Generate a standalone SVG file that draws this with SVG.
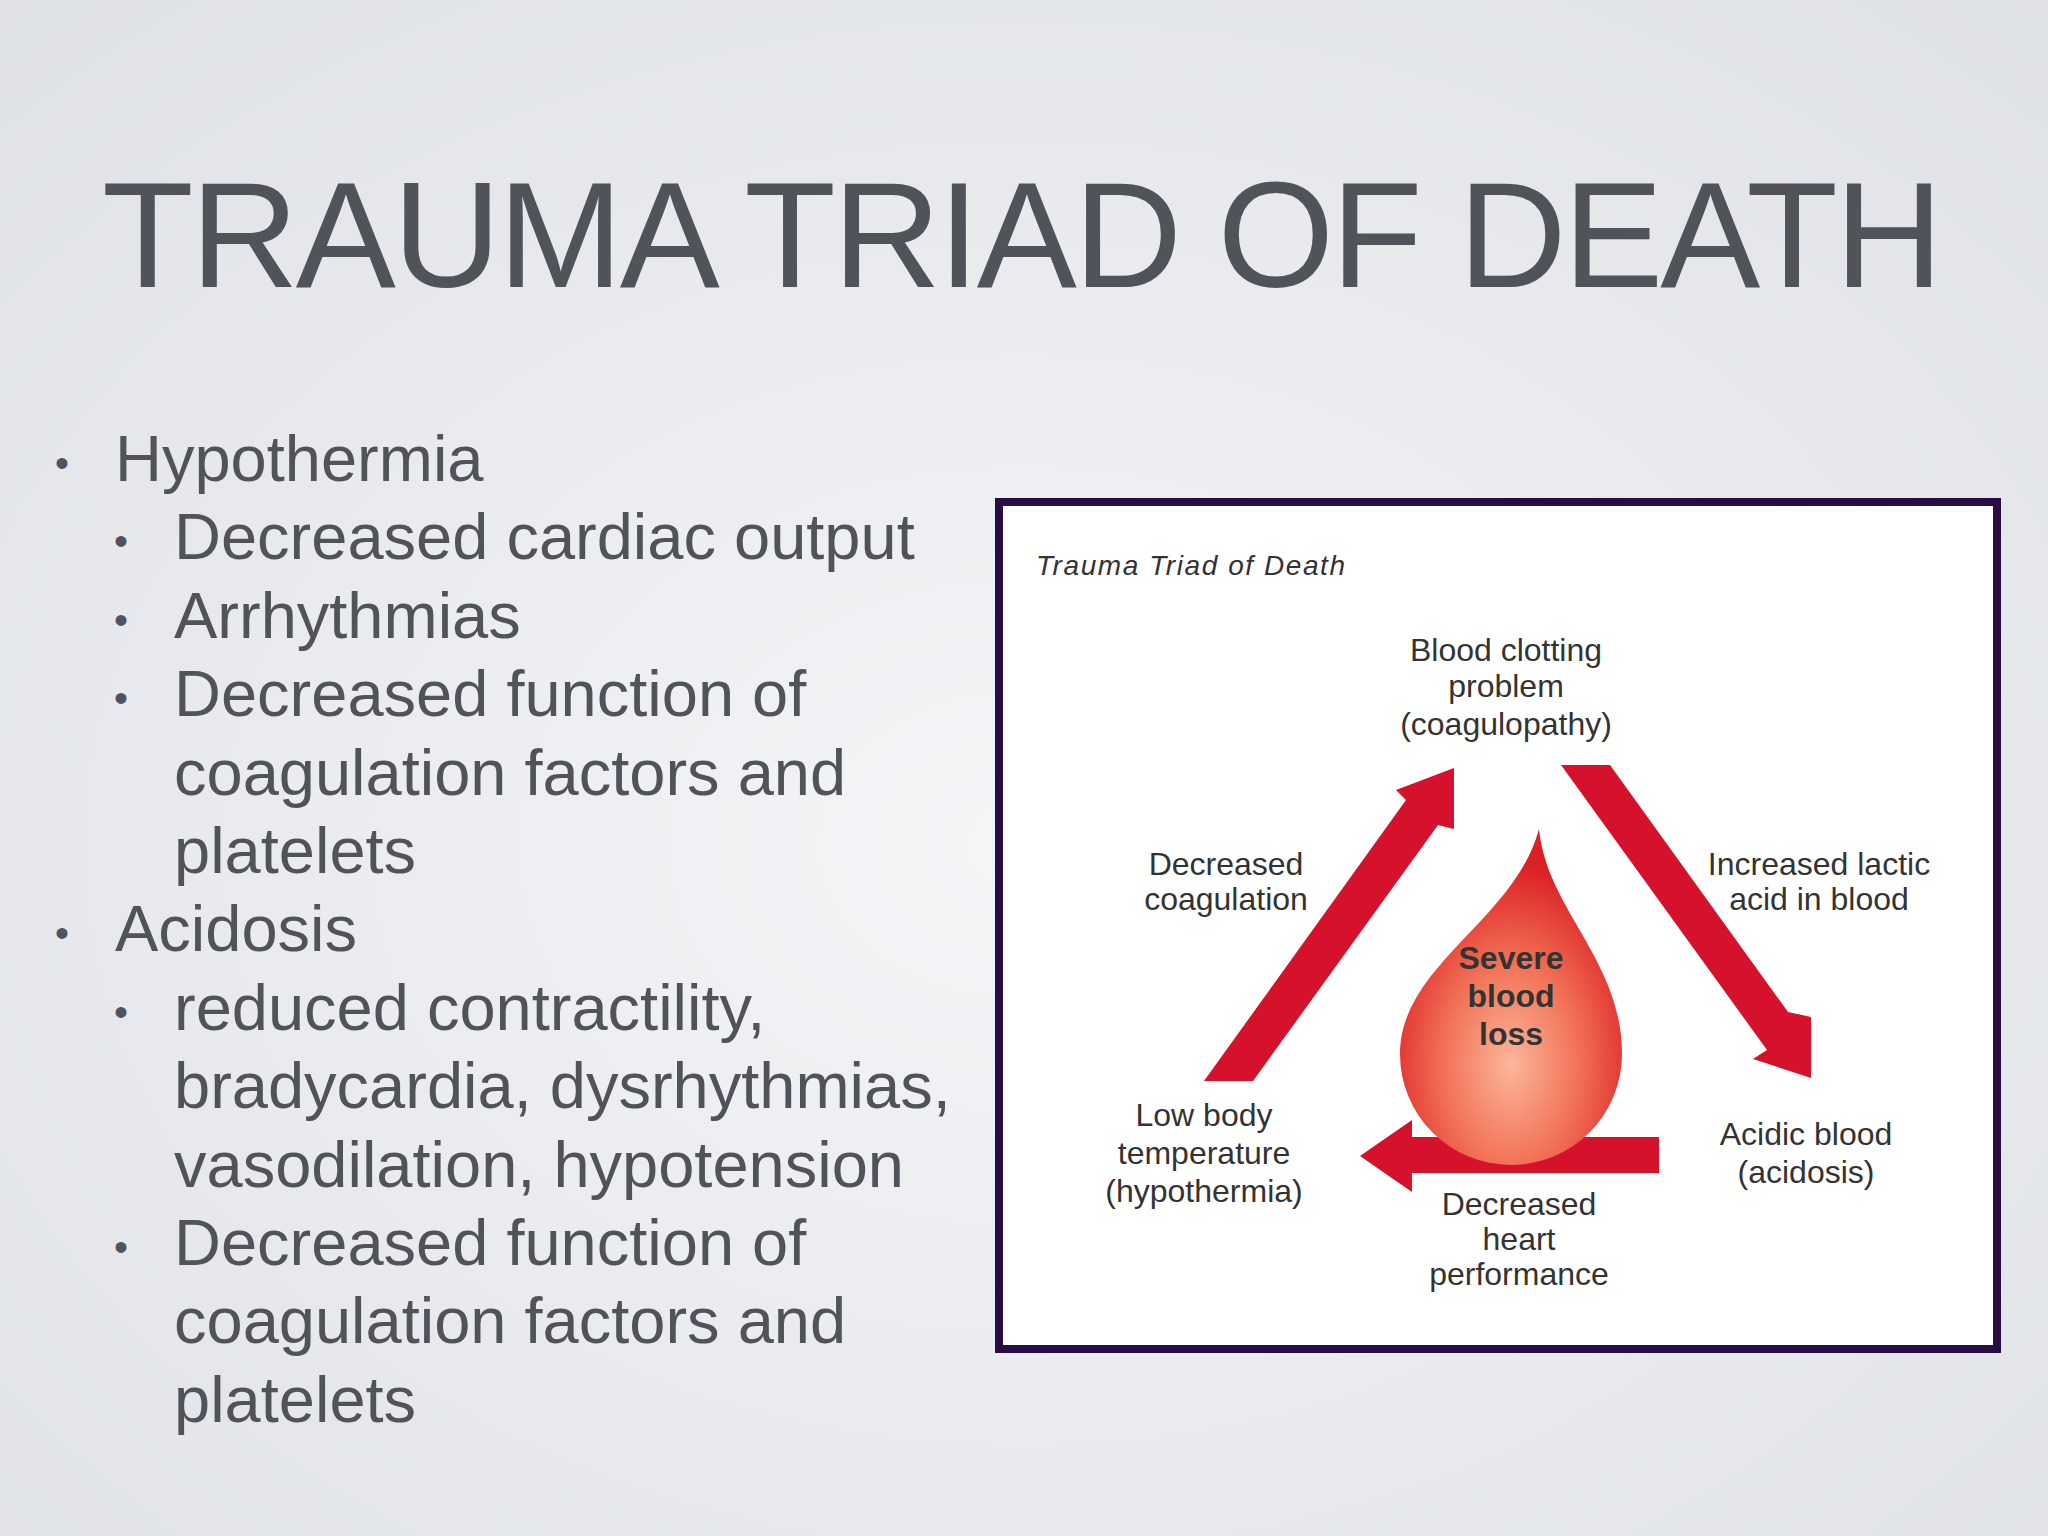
<svg xmlns="http://www.w3.org/2000/svg" width="2048" height="1536" viewBox="0 0 2048 1536">
<defs>
<radialGradient id="bg" cx="0.5" cy="0.55" r="0.8"><stop offset="0" stop-color="#f4f5f7"/><stop offset="1" stop-color="#dcdfe4"/></radialGradient>
<radialGradient id="drop" cx="0.5" cy="0.7" r="0.6"><stop offset="0" stop-color="#fbb69a"/><stop offset="0.5" stop-color="#f27257"/><stop offset="1" stop-color="#dc1f24"/></radialGradient>
<style>
.t{font-family:"Liberation Sans",Arial,sans-serif;fill:#50545a}
.b{font-size:65px}
.dot{font-size:40px}
.d{font-family:"Liberation Sans",Arial,sans-serif;font-size:32px;fill:#333;text-anchor:middle}
.arrow{fill:#d5112b}
</style>
</defs>
<rect width="2048" height="1536" fill="url(#bg)"/>
<text class="t" x="102" y="287" font-size="150" textLength="1841">TRAUMA TRIAD OF DEATH</text>
<g id="bullets" class="t b">
<text class="dot" x="55" y="477">•</text><text x="115" y="481">Hypothermia</text>
<text class="dot" x="114" y="555">•</text><text x="174" y="559">Decreased cardiac output</text>
<text class="dot" x="114" y="634">•</text><text x="174" y="638">Arrhythmias</text>
<text class="dot" x="114" y="712">•</text><text x="174" y="716">Decreased function of</text>
<text x="174" y="795">coagulation factors and</text>
<text x="174" y="873">platelets</text>
<text class="dot" x="55" y="947">•</text><text x="115" y="951">Acidosis</text>
<text class="dot" x="114" y="1026">•</text><text x="174" y="1030">reduced contractility,</text>
<text x="174" y="1108">bradycardia, dysrhythmias,</text>
<text x="174" y="1187">vasodilation, hypotension</text>
<text class="dot" x="114" y="1261">•</text><text x="174" y="1265">Decreased function of</text>
<text x="174" y="1343">coagulation factors and</text>
<text x="174" y="1422">platelets</text>
</g>
<rect x="999" y="502" width="998" height="847" fill="#fff" stroke="#2a0c45" stroke-width="8"/>
<text x="1036" y="575" font-family="Liberation Sans,sans-serif" font-style="italic" font-size="28" fill="#333" textLength="309">Trauma Triad of Death</text>
<g id="connectors">
<polygon class="arrow" points="1204,1081 1406,800 1396,790 1454,768 1454,829 1438,825 1253,1081"/>
<polygon class="arrow" points="1561,765 1610,765 1788,1012 1811,1017 1811,1078 1753,1059 1767,1050"/>
<polygon class="arrow" points="1659,1137 1659,1173 1412,1173 1412,1192 1360,1156 1412,1120 1412,1137"/>
</g>
<g id="drop"><path d="M1539,829 C1547,910 1622,960 1622,1054 A111,111 0 0 1 1400,1054 C1400,965 1515,920 1539,829 Z" fill="url(#drop)"/>
<text class="d" font-weight="bold" x="1511" y="969" fill="#222">Severe</text><text class="d" font-weight="bold" x="1511" y="1007" fill="#222">blood</text><text class="d" font-weight="bold" x="1511" y="1045" fill="#222">loss</text></g>
<g id="coag"><text class="d" x="1506" y="661">Blood clotting</text><text class="d" x="1506" y="697">problem</text><text class="d" x="1506" y="735">(coagulopathy)</text></g>
<g id="lbl-dc"><text class="d" x="1226" y="875">Decreased</text><text class="d" x="1226" y="910">coagulation</text></g>
<g id="lbl-il"><text class="d" x="1819" y="875">Increased lactic</text><text class="d" x="1819" y="910">acid in blood</text></g>
<g id="hypo"><text class="d" x="1204" y="1126">Low body</text><text class="d" x="1204" y="1164">temperature</text><text class="d" x="1204" y="1202">(hypothermia)</text></g>
<g id="acid"><text class="d" x="1806" y="1145">Acidic blood</text><text class="d" x="1806" y="1183">(acidosis)</text></g>
<g id="lbl-dh"><text class="d" x="1519" y="1215">Decreased</text><text class="d" x="1519" y="1250">heart</text><text class="d" x="1519" y="1285">performance</text></g>
</svg>
